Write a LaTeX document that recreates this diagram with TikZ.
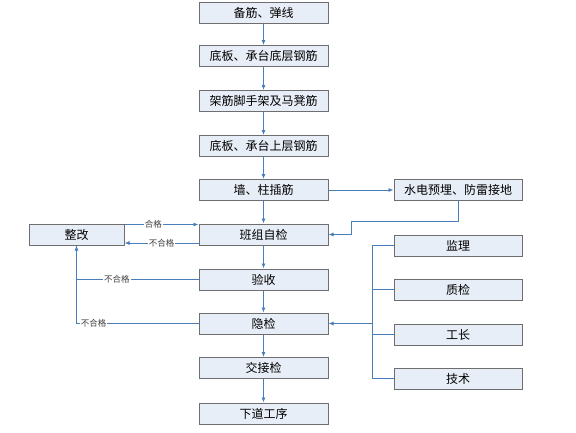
\documentclass[tikz,border=0pt]{standalone}
\usepackage{fontspec}
\setmainfont{Noto Sans CJK SC}
\usetikzlibrary{arrows.meta}
\definecolor{boxfill}{HTML}{E8EEF7}
\definecolor{boxline}{HTML}{6E6E6E}
\definecolor{flow}{HTML}{4A7EBB}

\begin{document}
\begin{tikzpicture}[x=1pt,y=-1pt,
  box/.style={draw=boxline,fill=boxfill,line width=1pt,minimum width=129pt,minimum height=21pt,inner sep=0pt,font=\fontsize{12}{14}\selectfont},
  arr/.style={draw=flow,line width=0.8pt,-{Latex[length=5pt,width=4pt]}},
  ln/.style={draw=flow,line width=0.8pt},
  lab/.style={fill=white,inner sep=1pt,font=\fontsize{8.5}{10}\selectfont,text=black!75}]
\useasboundingbox (0,0) rectangle (576,432);
% main column
\node[box] (bj) at (263.5,12.5) {备筋、弹线};
\node[box] (dc) at (263.5,56) {底板、承台底层钢筋};
\node[box] (jj) at (263.5,101) {架筋脚手架及马凳筋};
\node[box] (sc) at (263.5,146) {底板、承台上层钢筋};
\node[box] (qz) at (263.5,190) {墙、柱插筋};
\node[box] (bz) at (263.5,234.5) {班组自检};
\node[box] (ys) at (263.5,279.5) {验收};
\node[box] (yj) at (263.5,323.5) {隐检};
\node[box] (jc) at (263.5,368) {交接检};
\node[box] (xd) at (263.5,413.5) {下道工序};
% side boxes
\node[box,minimum width=95pt] (zg) at (76.5,234.5) {整改};
\node[box,minimum width=128pt] (sd) at (458,190) {水电预埋、防雷接地};
\node[box,minimum width=128pt] (jl) at (458,245.5) {监理};
\node[box,minimum width=128pt] (zj) at (458,289.5) {质检};
\node[box,minimum width=128pt] (gz) at (458,334.5) {工长};
\node[box,minimum width=128pt] (js) at (458,378.5) {技术};
\coordinate (br) at (372,323.5);
\coordinate (tk) at (351,221);

% main flow
\draw[arr] (bj) -- (dc);
\draw[arr] (dc) -- (jj);
\draw[arr] (jj) -- (sc);
\draw[arr] (sc) -- (qz);
\draw[arr] (qz) -- (bz);
\draw[arr] (bz) -- (ys);
\draw[arr] (ys) -- (yj);
\draw[arr] (yj) -- (jc);
\draw[arr] (jc) -- (xd);

% water and electric
\draw[arr] (qz) -- (sd);
\draw[arr] (sd.south) |- (tk) |- (bz.east);

% rework loop
\draw[arr] ([yshift=10pt]zg.east) -- ([yshift=10pt]bz.west) node[lab,pos=0.39] {合格};
\draw[arr] ([yshift=-8.5pt]bz.west) -- ([yshift=-8.5pt]zg.east) node[lab,midway] {不合格};
\draw[arr] (ys.west) -| (zg.south) node[lab,pos=0.335] {不合格};
\draw[ln] (yj.west) -| (zg.south) node[lab,pos=0.43] {不合格};

% inspectors
\draw[ln] (jl.west) -| (br |- js.west) -- (js.west);
\draw[ln] (br |- zj.west) -- (zj.west);
\draw[ln] (br |- gz.west) -- (gz.west);
\draw[arr] (br) -- (yj.east);
\end{tikzpicture}
\end{document}
